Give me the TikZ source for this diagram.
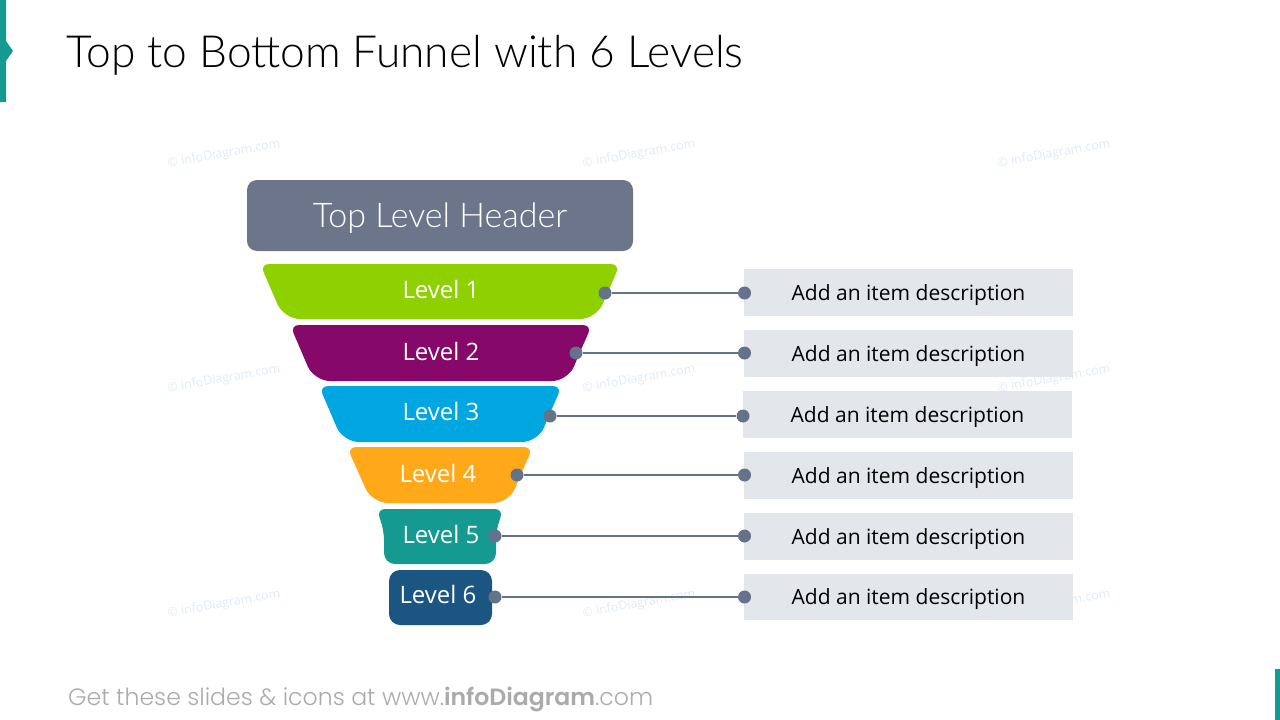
\documentclass[tikz,border=0pt]{standalone}
\usepackage{fontspec}
\setmainfont{Open Sans}
\newfontfamily\titlefont{Lato Light}
\newfontfamily\footfont[BoldFont={Poppins SemiBold}]{Poppins Light}
\definecolor{accentteal}{HTML}{159A92}
\definecolor{headergray}{HTML}{6C7589}
\definecolor{levelgreen}{HTML}{8FD100}
\definecolor{levelpurple}{HTML}{860868}
\definecolor{levelblue}{HTML}{00A6E0}
\definecolor{levelorange}{HTML}{FFA81A}
\definecolor{levelnavy}{HTML}{1B5682}
\definecolor{descgray}{HTML}{E3E6EB}
\definecolor{dotgray}{HTML}{64738A}
\definecolor{markblue}{HTML}{E0EAF7}
\definecolor{footgray}{HTML}{ABABAB}
\begin{document}
\begin{tikzpicture}[
    x=1pt, y=-1pt,
    header/.style={rectangle, fill=headergray, rounded corners=10pt, minimum width=386pt, minimum height=71pt, text=white, text height=28pt, text depth=5pt, font=\titlefont\fontsize{34}{40}\selectfont},
    levellabel/.style={text=white, inner sep=0pt, font=\fontsize{24}{28}\selectfont},
    desc/.style={rectangle, fill=descgray, minimum width=329pt, minimum height=47pt, inner sep=0pt, text=black, text height=18pt, text depth=3pt, font=\fontsize{21}{24}\selectfont},
    dot/.style={circle, fill=dotgray, minimum size=13pt, inner sep=0pt},
    link/.style={draw=dotgray, line width=2pt},
    watermark/.style={text=markblue, rotate=10, inner sep=0pt, font=\fontsize{12.5}{15}\selectfont}
]
    \useasboundingbox (0,0) rectangle (1280,720);

    % Wasserzeichen
    \node[watermark] (mark1) at (224,154) {© infoDiagram.com};
    \node[watermark] (mark2) at (639,154) {© infoDiagram.com};
    \node[watermark] (mark3) at (1054,154) {© infoDiagram.com};
    \node[watermark] (mark4) at (224,379) {© infoDiagram.com};
    \node[watermark] (mark5) at (639,379) {© infoDiagram.com};
    \node[watermark] (mark6) at (1054,379) {© infoDiagram.com};
    \node[watermark] (mark7) at (224,604) {© infoDiagram.com};
    \node[watermark] (mark8) at (639,604) {© infoDiagram.com};
    \node[watermark] (mark9) at (1054,604) {© infoDiagram.com};

    % Akzente am Rand
    \fill[accentteal] (0,0) -- (6,0) -- (6,41) -- (13,51) -- (6,61) -- (6,102) -- (0,102) -- cycle;
    \fill[accentteal] (1275,669) rectangle (1280,720);

    % Titel
    \node[anchor=west, inner sep=0pt, text=black, font=\titlefont\fontsize{44.3}{50}\selectfont] (title) at (66,55) {Top to Bottom Funnel with 6 Levels};

    % Kopf
    \node[header] (head) at (440,215.5) {Top Level Header};

    % Trichterstufen
    \fill[levelgreen, rounded corners=9pt] (440,264) -- (620,264) -- (608,292)
        [rounded corners=16pt] -- (596,319) -- (284,319) [rounded corners=9pt] -- (260,264) -- cycle;
    \fill[levelpurple, rounded corners=9pt] (440,325) -- (592,325) -- (580,352)
        [rounded corners=16pt] -- (568,381) -- (314,381) [rounded corners=9pt] -- (290,325) -- cycle;
    \fill[levelblue, rounded corners=9pt] (440,386) -- (562,386) -- (550,413)
        [rounded corners=16pt] -- (538,442) -- (343,442) [rounded corners=9pt] -- (319,386) -- cycle;
    \fill[levelorange, rounded corners=9pt] (440,447) -- (533,447) -- (521,474)
        [rounded corners=16pt] -- (509,503) -- (372,503) [rounded corners=9pt] -- (347,447) -- cycle;
    \fill[accentteal, rounded corners=8pt] (440,509) -- (503,509) -- (496,532)
        [rounded corners=11pt] -- (496,564) -- (384,564) [rounded corners=8pt] -- (384,532) -- (377,509) -- cycle;
    \fill[levelnavy, rounded corners=11pt] (389,570) rectangle (492,625);

    \node[levellabel] (level1) at (441,289) {Level 1};
    \node[levellabel] (level2) at (441,351) {Level 2};
    \node[levellabel] (level3) at (441,411) {Level 3};
    \node[levellabel] (level4) at (438,473) {Level 4};
    \node[levellabel] (level5) at (441,534) {Level 5};
    \node[levellabel] (level6) at (438,594) {Level 6};

    % Beschreibungen
    \node[desc] (desc1) at (908.5,292.5) {Add an item description};
    \node[desc] (desc2) at (908.5,353.5) {Add an item description};
    \node[desc] (desc3) at (907.5,414.5) {Add an item description};
    \node[desc] (desc4) at (908.5,475.5) {Add an item description};
    \node[desc] (desc5) at (908.5,536.5) {Add an item description};
    \node[desc, minimum height=46pt] (desc6) at (908.5,597) {Add an item description};

    % Verbindungen
    \node[dot] (from1) at (605,293) {};
    \node[dot] (to1) at (744.5,293) {};
    \node[dot] (from2) at (576,353) {};
    \node[dot] (to2) at (744.5,353) {};
    \node[dot] (from3) at (550,416) {};
    \node[dot] (to3) at (743,416) {};
    \node[dot] (from4) at (517,475) {};
    \node[dot] (to4) at (744.5,475) {};
    \node[dot] (from5) at (495,536) {};
    \node[dot] (to5) at (744.5,536) {};
    \node[dot] (from6) at (495,597) {};
    \node[dot] (to6) at (744.5,597) {};
    \draw[link] (from1) -- (to1);
    \draw[link] (from2) -- (to2);
    \draw[link] (from3) -- (to3);
    \draw[link] (from4) -- (to4);
    \draw[link] (from5) -- (to5);
    \draw[link] (from6) -- (to6);

    % Fusszeile
    \node[anchor=west, inner sep=0pt, text=footgray, font=\footfont\fontsize{23.6}{28}\selectfont] (foot) at (68,699) {Get these slides \& icons at www.\textbf{infoDiagram}.com};
\end{tikzpicture}
\end{document}
